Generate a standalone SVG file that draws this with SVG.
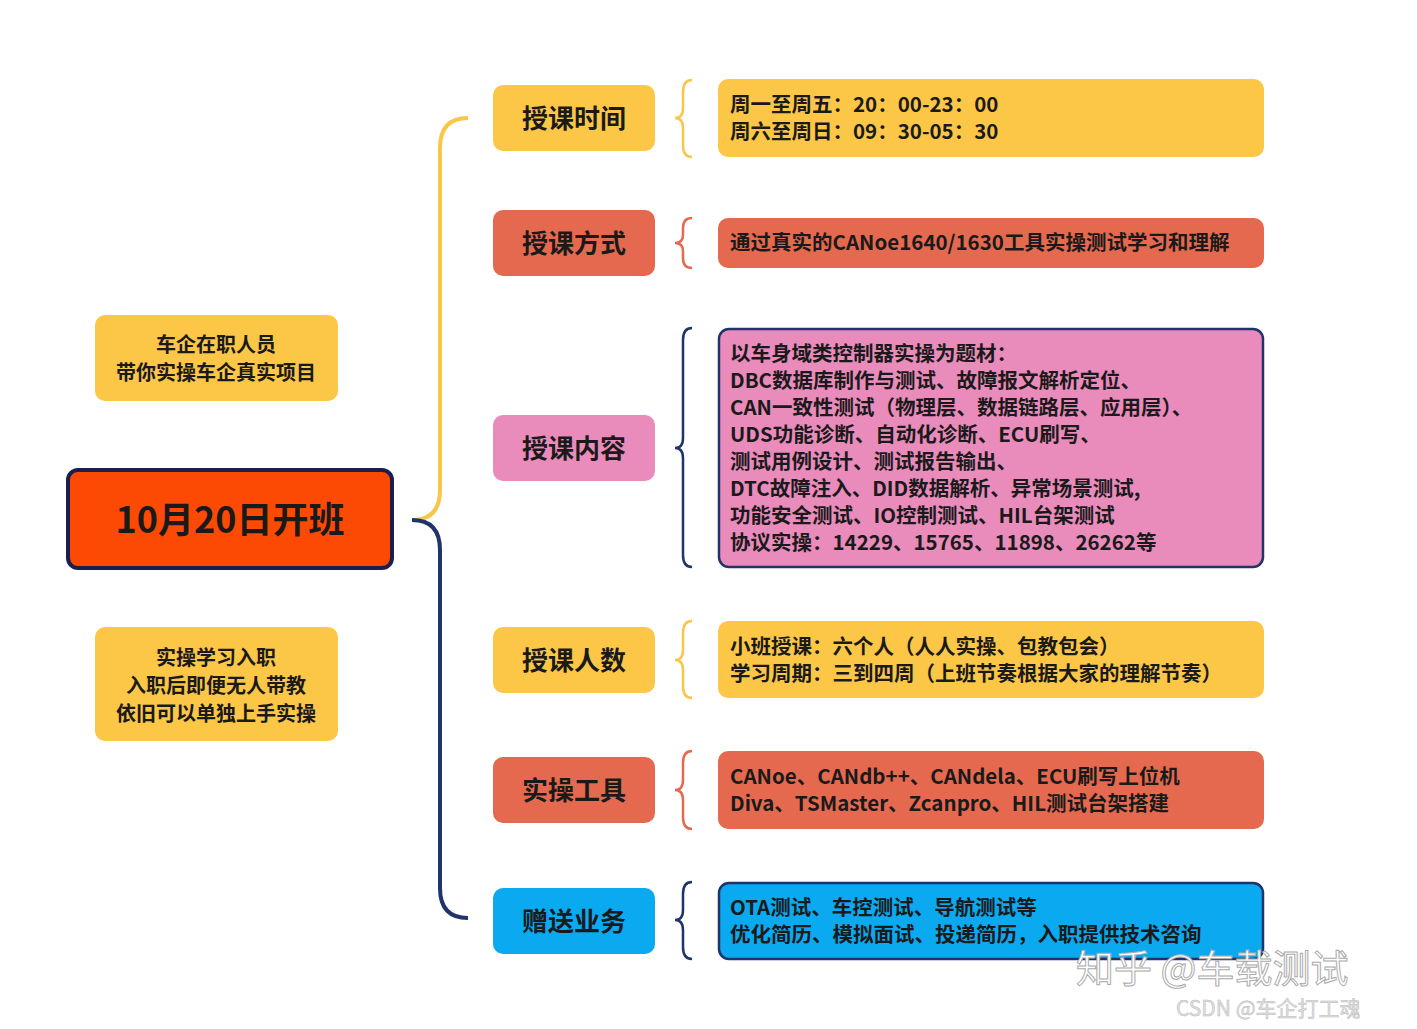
<svg xmlns="http://www.w3.org/2000/svg" width="1417" height="1029" viewBox="0 0 1417 1029">
<style>
text{font-family:"Noto Sans CJK SC","Noto Sans",sans-serif;font-weight:bold;fill:#1a1a1a}
.h{font-size:26px;text-anchor:middle}
.c{font-size:20.5px}
.s{font-size:20px;text-anchor:middle}
.y{fill:#fcc647}.r{fill:#e5694f}.p{fill:#e98bbb}.b{fill:#0aa9f0}
.br{fill:none;stroke-width:2.5}
</style>
<rect width="1417" height="1029" fill="#fff"/>
<g id="connectors" fill="none" stroke-width="4">
<path d="M412 520 Q440 520 440 490 L440 148 Q440 118 468 118" stroke="#f9c64a"/>
<path d="M412 520 Q440 520 440 550 L440 888 Q440 918 468 918" stroke="#20336b"/>
<path class="br" stroke="#f9c64a" d="M692 80 Q683 80 683 92 L683 108 Q683 118 675 118 Q683 118 683 128 L683 145 Q683 157 692 157"/>
<path class="br" stroke="#e5694f" d="M692 218 Q683 218 683 228 L683 235 Q683 243 675 243 Q683 243 683 251 L683 258 Q683 268 692 268"/>
<path class="br" stroke="#20336b" d="M692 328 Q683 328 683 340 L683 438 Q683 448 675 448 Q683 448 683 458 L683 555 Q683 567 692 567"/>
<path class="br" stroke="#f9c64a" d="M692 621 Q683 621 683 633 L683 650 Q683 660 675 660 Q683 660 683 670 L683 686 Q683 698 692 698"/>
<path class="br" stroke="#e5694f" d="M692 751 Q683 751 683 763 L683 780 Q683 790 675 790 Q683 790 683 800 L683 817 Q683 829 692 829"/>
<path class="br" stroke="#20336b" d="M692 882 Q683 882 683 894 L683 910 Q683 920 675 920 Q683 920 683 930 L683 947 Q683 959 692 959"/>
</g>
<g id="root"><rect x="68" y="470" width="324" height="98" rx="10" fill="#fc4a05" stroke="#1a1f4d" stroke-width="4"/><text x="230" y="533" style="font-size:36px;text-anchor:middle">10月20日开班</text></g>
<g id="note1"><rect class="y" x="95" y="315" width="243" height="86" rx="10"/><text class="s" x="216" y="352">车企在职人员</text><text class="s" x="216" y="380">带你实操车企真实项目</text></g>
<g id="note2"><rect class="y" x="95" y="627" width="243" height="114" rx="10"/><text class="s" x="216" y="665">实操学习入职</text><text class="s" x="216" y="693">入职后即便无人带教</text><text class="s" x="216" y="721">依旧可以单独上手实操</text></g>
<g id="t1"><rect class="y" x="493" y="85" width="162" height="66" rx="10"/><text class="h" x="574" y="128">授课时间</text></g>
<g id="t2"><rect class="r" x="493" y="210" width="162" height="66" rx="10"/><text class="h" x="574" y="253">授课方式</text></g>
<g id="t3"><rect class="p" x="493" y="415" width="162" height="66" rx="10"/><text class="h" x="574" y="458">授课内容</text></g>
<g id="t4"><rect class="y" x="493" y="627" width="162" height="66" rx="10"/><text class="h" x="574" y="670">授课人数</text></g>
<g id="t5"><rect class="r" x="493" y="757" width="162" height="66" rx="10"/><text class="h" x="574" y="800">实操工具</text></g>
<g id="t6"><rect class="b" x="493" y="888" width="162" height="66" rx="10"/><text class="h" x="574" y="931">赠送业务</text></g>
<g id="d1"><rect class="y" x="718" y="79" width="546" height="78" rx="10"/><text class="c" x="730" y="112">周一至周五：20：00-23：00</text><text class="c" x="730" y="139">周六至周日：09：30-05：30</text></g>
<g id="d2"><rect class="r" x="718" y="218" width="546" height="50" rx="10"/><text class="c" x="730" y="250">通过真实的CANoe1640/1630工具实操测试学习和理解</text></g>
<g id="d3"><rect class="p" x="719" y="329" width="544" height="238" rx="10" stroke="#20336b" stroke-width="2.5"/>
<text class="c" x="730" y="361">以车身域类控制器实操为题材：</text>
<text class="c" x="730" y="388">DBC数据库制作与测试、故障报文解析定位、</text>
<text class="c" x="730" y="415">CAN一致性测试（物理层、数据链路层、应用层）、</text>
<text class="c" x="730" y="442">UDS功能诊断、自动化诊断、ECU刷写、</text>
<text class="c" x="730" y="469">测试用例设计、测试报告输出、</text>
<text class="c" x="730" y="496">DTC故障注入、DID数据解析、异常场景测试,</text>
<text class="c" x="730" y="523">功能安全测试、IO控制测试、HIL台架测试</text>
<text class="c" x="730" y="550">协议实操：14229、15765、11898、26262等</text></g>
<g id="d4"><rect class="y" x="718" y="621" width="546" height="77" rx="10"/><text class="c" x="730" y="654">小班授课：六个人（人人实操、包教包会）</text><text class="c" x="730" y="681">学习周期：三到四周（上班节奏根据大家的理解节奏）</text></g>
<g id="d5"><rect class="r" x="718" y="751" width="546" height="78" rx="10"/><text class="c" x="730" y="784">CANoe、CANdb++、CANdela、ECU刷写上位机</text><text class="c" x="730" y="811">Diva、TSMaster、Zcanpro、HIL测试台架搭建</text></g>
<g id="d6"><rect class="b" x="719" y="883" width="544" height="76" rx="10" stroke="#20336b" stroke-width="2.5"/><text class="c" x="730" y="915">OTA测试、车控测试、导航测试等</text><text class="c" x="730" y="942">优化简历、模拟面试、投递简历，入职提供技术咨询</text></g>
<g id="watermark">
<text x="1076" y="982" style="font-size:38px;font-weight:normal;fill:#fff;stroke:#aaa;stroke-width:1">知乎 @车载测试</text>
<text x="1176" y="1016" style="font-size:21px;font-weight:normal;fill:#e0e0e0;stroke:#bbb;stroke-width:0.5">CSDN @车企打工魂</text>
</g>
</svg>
